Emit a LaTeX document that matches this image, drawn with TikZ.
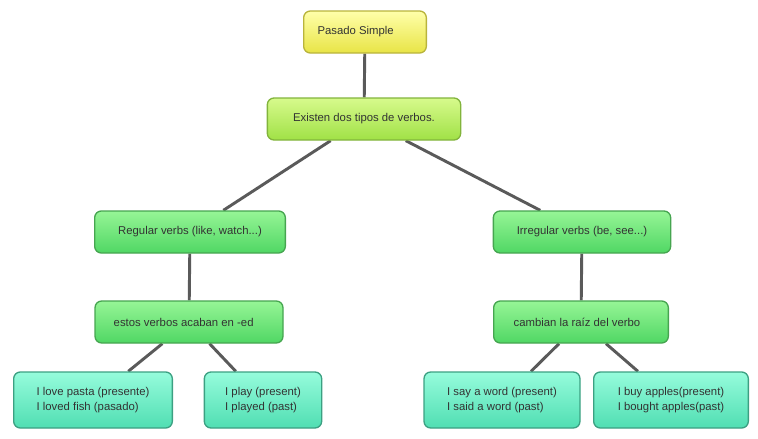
\documentclass[tikz,border=0pt]{standalone}
\usepackage{fontspec}
\setmainfont{Liberation Sans}
\usetikzlibrary{backgrounds}
\definecolor{edgegray}{RGB}{90,90,90}
\tikzset{
  concept/.style={rounded corners=5pt, line width=1pt, inner xsep=10pt, align=left,
    minimum height=31.5pt, font=\fontsize{8.5}{11}\selectfont, text=black!80},
  yellowbox/.style={concept, draw={rgb,255:red,185;green,180;blue,60},
    top color={rgb,255:red,255;green,255;blue,170}, bottom color={rgb,255:red,232;green,228;blue,70}},
  limebox/.style={concept, draw={rgb,255:red,130;green,180;blue,60},
    top color={rgb,255:red,215;green,250;blue,140}, bottom color={rgb,255:red,160;green,225;blue,70}},
  greenbox/.style={concept, draw={rgb,255:red,70;green,165;blue,80},
    top color={rgb,255:red,150;green,245;blue,150}, bottom color={rgb,255:red,80;green,215;blue,100}},
  cyanbox/.style={concept, draw={rgb,255:red,60;green,160;blue,130}, minimum height=42pt,
    top color={rgb,255:red,150;green,252;blue,220}, bottom color={rgb,255:red,80;green,222;blue,178}},
  link/.style={edgegray, line width=2.2pt}
}
\begin{document}
\begin{tikzpicture}[x=0.75pt,y=0.75pt,yscale=-1,xscale=1]
	\useasboundingbox (0,0) rectangle (758,439);

	% concepts
	\node [yellowbox, minimum width=92pt] (pasado) at (365,32) {Pasado Simple\hspace{14pt}};
	\node [limebox, minimum width=145pt] (tipos) at (364,119) {Existen dos tipos de verbos.};
	\node [greenbox, minimum width=143pt] (regular) at (190,232) {Regular verbs (like, watch...)};
	\node [greenbox, minimum width=133pt] (irregular) at (582,232) {Irregular verbs (be, see...)};
	\node [greenbox, minimum width=141pt] (acaban) at (189,322) {estos verbos acaban en -ed\hspace{8pt}};
	\node [greenbox, minimum width=131pt] (raiz) at (581,322) {cambian la raíz del verbo\hspace{6pt}};
	\node [cyanbox, minimum width=119pt] (pasta) at (93,400) {I love pasta (presente)\\I loved fish (pasado)};
	\node [cyanbox, minimum width=88pt] (play) at (263,400) {I play (present)\\I played (past)\hspace{10pt}};
	\node [cyanbox, minimum width=117pt] (word) at (502,400) {I say a word (present)\\I said a word (past)\hspace{6pt}};
	\node [cyanbox, minimum width=116pt] (apples) at (671,400) {I buy apples(present)\\I bought apples(past)};

	% links
	\begin{scope}[on background layer]
	\draw [link] (pasado) -- (tipos);
	\draw [link] (tipos) -- (regular);
	\draw [link] (tipos) -- (irregular);
	\draw [link] (regular) -- (acaban);
	\draw [link] (irregular) -- (raiz);
	\draw [link] (acaban) -- (pasta);
	\draw [link] (acaban) -- (play);
	\draw [link] (raiz) -- (word);
	\draw [link] (raiz) -- (apples);
	\end{scope}

\end{tikzpicture}
\end{document}
